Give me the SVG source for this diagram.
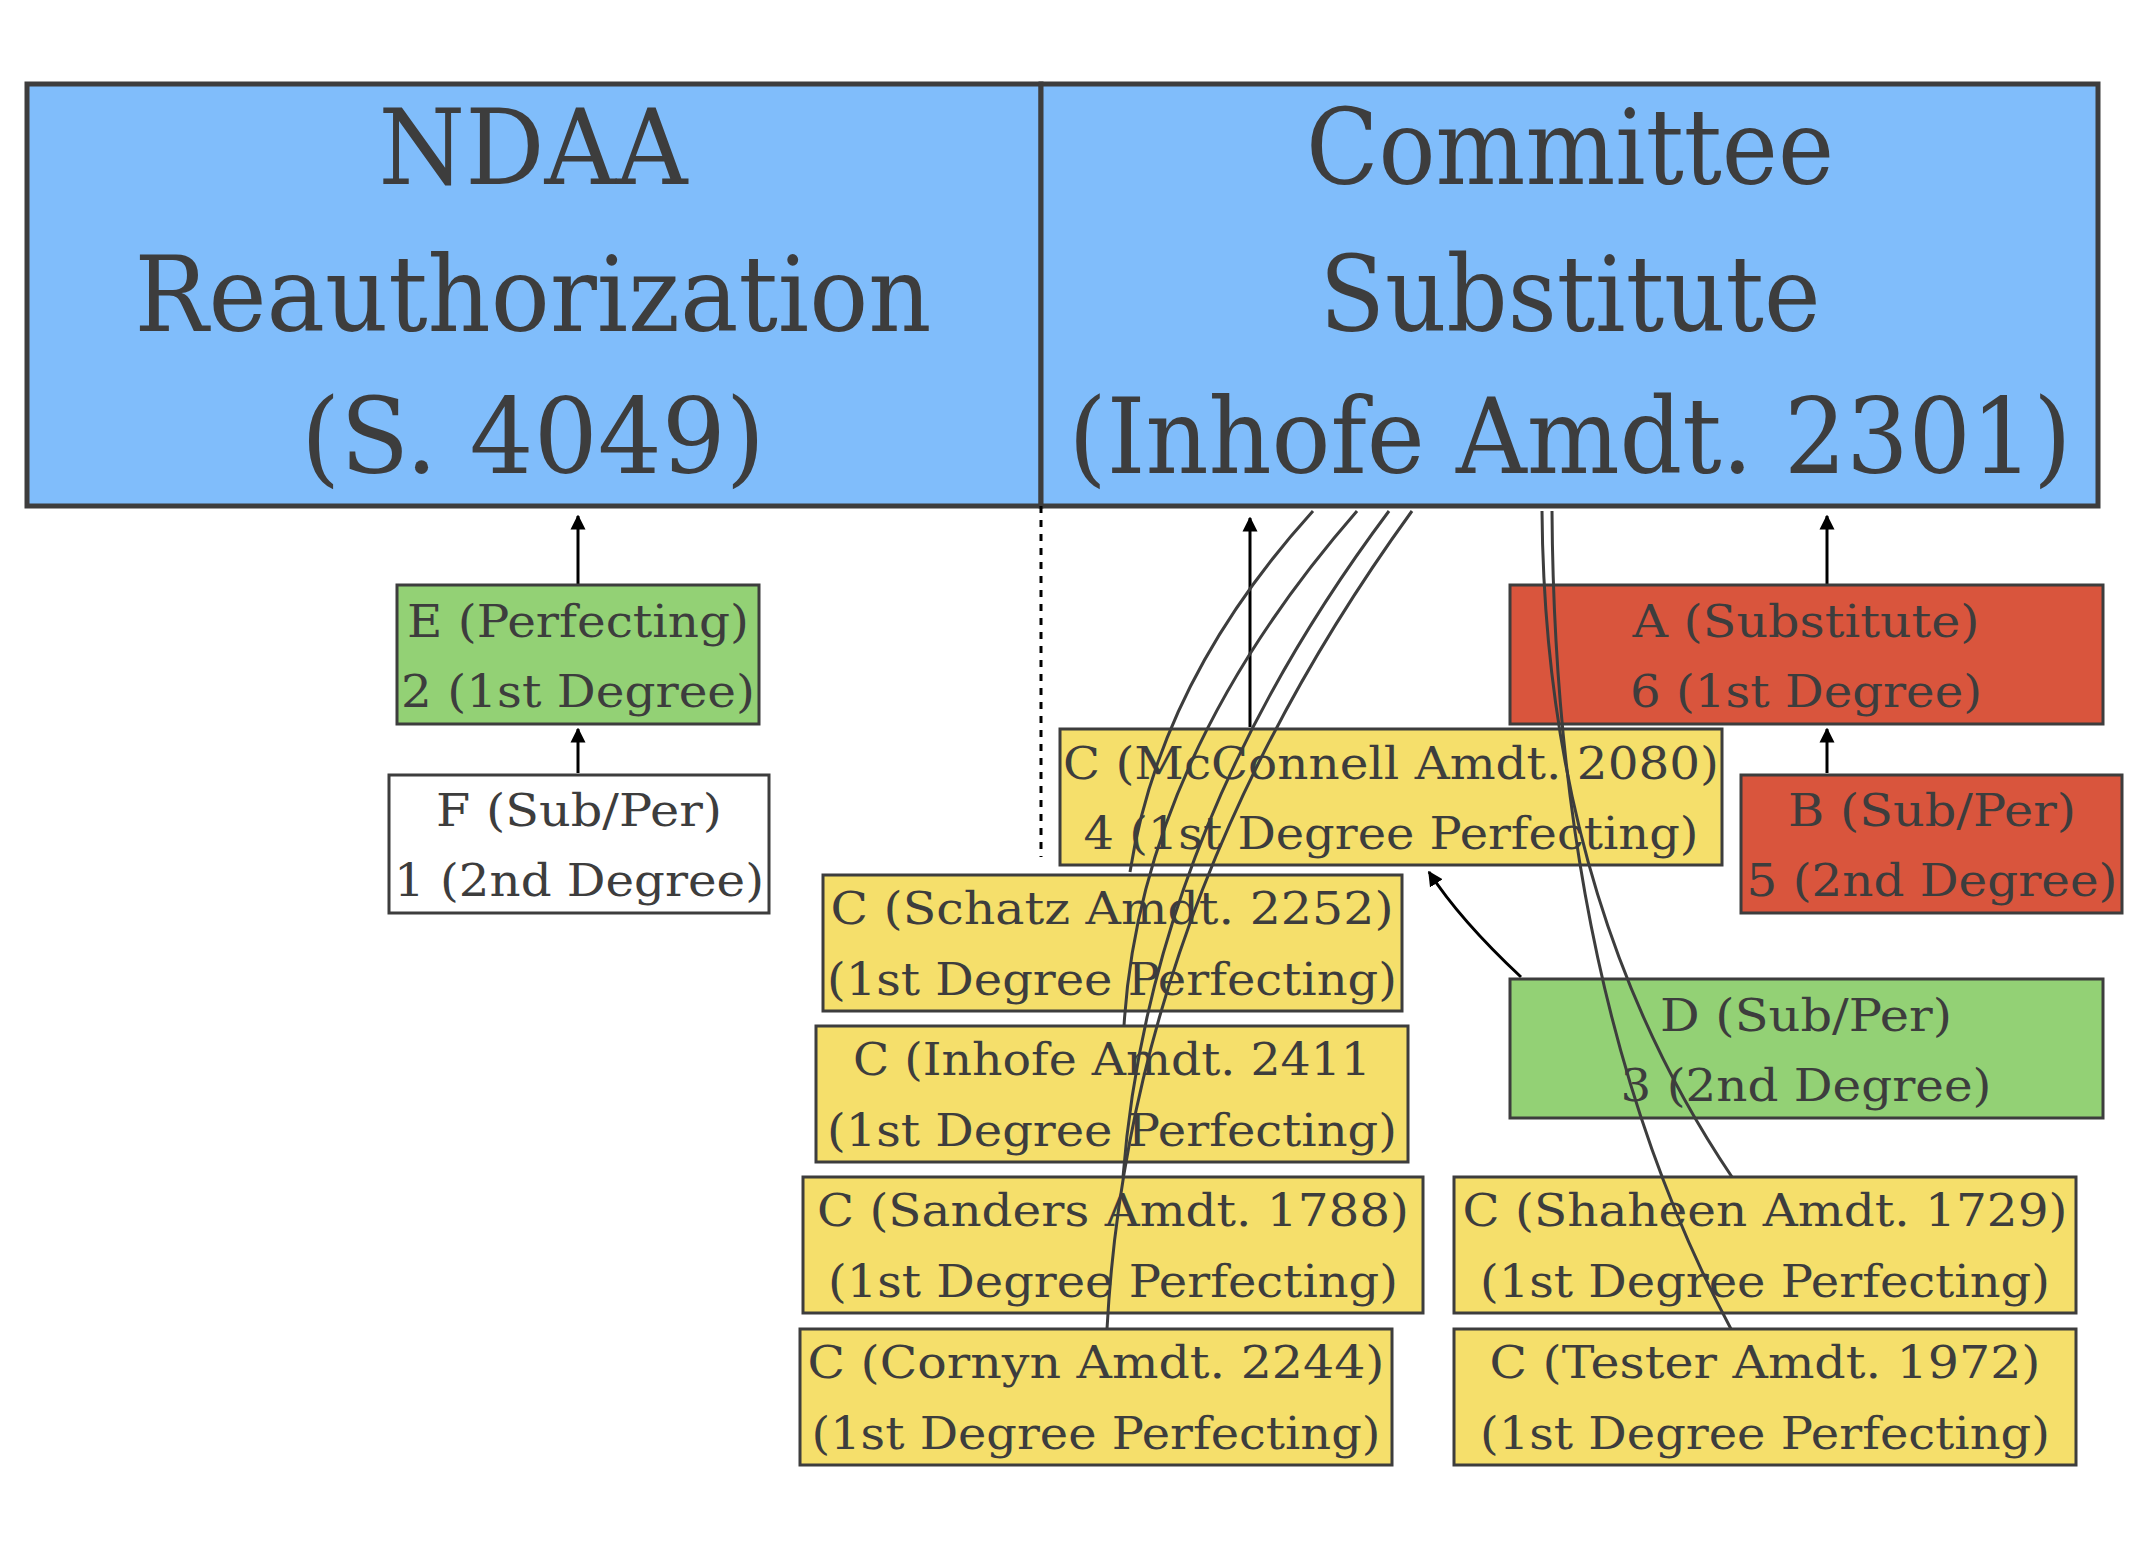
<svg xmlns="http://www.w3.org/2000/svg" width="2133" height="1553" viewBox="0 0 2133 1553">
<style>
text{font-family:"DejaVu Serif","Liberation Serif",serif;fill:#3d3d3d;text-anchor:middle}
.big{font-size:104px}
.sm{font-size:44px}
.bx{stroke:#3d3d3d;stroke-width:3}
.blue{fill:#80bdfb;stroke-width:5}
.green{fill:#93d175}.red{fill:#d9553d}.yel{fill:#f5df6b}.wht{fill:#fff}
.ln{fill:none;stroke:#3d3d3d;stroke-width:3}
.ar{fill:none;stroke:#000;stroke-width:3;marker-end:url(#ah)}
</style>
<defs><marker id="ah" viewBox="0 0 10 10" refX="9" refY="5" markerWidth="5" markerHeight="6" orient="auto"><path d="M0,0L10,5L0,10z" fill="#000"/></marker></defs>
<rect width="2133" height="1553" fill="#fff"/>
<g id="ndaa"><rect class="bx blue" x="27" y="84" width="1014" height="422"/>
<text class="big" x="533" y="184" textLength="309" lengthAdjust="spacingAndGlyphs">NDAA</text>
<text class="big" x="533" y="331" textLength="797" lengthAdjust="spacingAndGlyphs">Reauthorization</text>
<text class="big" x="533" y="473" textLength="464" lengthAdjust="spacingAndGlyphs">(S. 4049)</text></g>
<g id="committee"><rect class="bx blue" x="1041" y="84" width="1057" height="422"/>
<text class="big" x="1570" y="184" textLength="528" lengthAdjust="spacingAndGlyphs">Committee</text>
<text class="big" x="1570" y="331" textLength="501" lengthAdjust="spacingAndGlyphs">Substitute</text>
<text class="big" x="1570" y="473" textLength="1003" lengthAdjust="spacingAndGlyphs">(Inhofe Amdt. 2301)</text></g>
<g id="connectors">
<line x1="1041" y1="506" x2="1041" y2="857" stroke="#000" stroke-width="3" stroke-dasharray="7,7"/>
<line class="ar" x1="578" y1="585" x2="578" y2="516"/>
<line class="ar" x1="578" y1="773" x2="578" y2="729"/>
<line class="ar" x1="1827" y1="585" x2="1827" y2="516"/>
<line class="ar" x1="1827" y1="773" x2="1827" y2="729"/>
<line class="ar" x1="1250" y1="727" x2="1250" y2="518"/>
<path class="ar" d="M1521,977 Q1460,920 1429,872"/>
</g>
<g id="e"><rect class="bx green" x="397" y="585" width="362" height="139"/>
<text class="sm" x="578" y="637" textLength="342" lengthAdjust="spacingAndGlyphs">E (Perfecting)</text>
<text class="sm" x="578" y="707" textLength="354" lengthAdjust="spacingAndGlyphs">2 (1st Degree)</text></g>
<g id="f"><rect class="bx wht" x="389" y="775" width="380" height="138"/>
<text class="sm" x="579" y="826" textLength="286" lengthAdjust="spacingAndGlyphs">F (Sub/Per)</text>
<text class="sm" x="579" y="896" textLength="370" lengthAdjust="spacingAndGlyphs">1 (2nd Degree)</text></g>
<g id="a"><rect class="bx red" x="1510" y="585" width="593" height="139"/>
<text class="sm" x="1806" y="637" textLength="347" lengthAdjust="spacingAndGlyphs">A (Substitute)</text>
<text class="sm" x="1806" y="707" textLength="352" lengthAdjust="spacingAndGlyphs">6 (1st Degree)</text></g>
<g id="b"><rect class="bx red" x="1741" y="775" width="381" height="138"/>
<text class="sm" x="1932" y="826" textLength="288" lengthAdjust="spacingAndGlyphs">B (Sub/Per)</text>
<text class="sm" x="1932" y="896" textLength="371" lengthAdjust="spacingAndGlyphs">5 (2nd Degree)</text></g>
<g id="mcconnell"><rect class="bx yel" x="1060" y="729" width="662" height="136"/>
<text class="sm" x="1391" y="779" textLength="656" lengthAdjust="spacingAndGlyphs">C (McConnell Amdt. 2080)</text>
<text class="sm" x="1391" y="849" textLength="615" lengthAdjust="spacingAndGlyphs">4 (1st Degree Perfecting)</text></g>
<g id="schatz"><rect class="bx yel" x="823" y="875" width="579" height="136"/>
<text class="sm" x="1112" y="924" textLength="563" lengthAdjust="spacingAndGlyphs">C (Schatz Amdt. 2252)</text>
<text class="sm" x="1112" y="995" textLength="570" lengthAdjust="spacingAndGlyphs">(1st Degree Perfecting)</text></g>
<g id="inhofe2411"><rect class="bx yel" x="816" y="1026" width="592" height="136"/>
<text class="sm" x="1112" y="1075" textLength="518" lengthAdjust="spacingAndGlyphs">C (Inhofe Amdt. 2411</text>
<text class="sm" x="1112" y="1146" textLength="570" lengthAdjust="spacingAndGlyphs">(1st Degree Perfecting)</text></g>
<g id="sanders"><rect class="bx yel" x="803" y="1177" width="620" height="136"/>
<text class="sm" x="1113" y="1226" textLength="592" lengthAdjust="spacingAndGlyphs">C (Sanders Amdt. 1788)</text>
<text class="sm" x="1113" y="1297" textLength="570" lengthAdjust="spacingAndGlyphs">(1st Degree Perfecting)</text></g>
<g id="cornyn"><rect class="bx yel" x="800" y="1329" width="592" height="136"/>
<text class="sm" x="1096" y="1378" textLength="577" lengthAdjust="spacingAndGlyphs">C (Cornyn Amdt. 2244)</text>
<text class="sm" x="1096" y="1449" textLength="569" lengthAdjust="spacingAndGlyphs">(1st Degree Perfecting)</text></g>
<g id="d"><rect class="bx green" x="1510" y="979" width="593" height="139"/>
<text class="sm" x="1806" y="1031" textLength="292" lengthAdjust="spacingAndGlyphs">D (Sub/Per)</text>
<text class="sm" x="1806" y="1101" textLength="371" lengthAdjust="spacingAndGlyphs">3 (2nd Degree)</text></g>
<g id="shaheen"><rect class="bx yel" x="1454" y="1177" width="622" height="136"/>
<text class="sm" x="1765" y="1226" textLength="605" lengthAdjust="spacingAndGlyphs">C (Shaheen Amdt. 1729)</text>
<text class="sm" x="1765" y="1297" textLength="570" lengthAdjust="spacingAndGlyphs">(1st Degree Perfecting)</text></g>
<g id="tester"><rect class="bx yel" x="1454" y="1329" width="622" height="136"/>
<text class="sm" x="1765" y="1378" textLength="551" lengthAdjust="spacingAndGlyphs">C (Tester Amdt. 1972)</text>
<text class="sm" x="1765" y="1449" textLength="570" lengthAdjust="spacingAndGlyphs">(1st Degree Perfecting)</text></g>
<g id="curves">
<path class="ln" d="M1313,511 Q1160,680 1130,872"/>
<path class="ln" d="M1357,511 Q1140,760 1124,1026"/>
<path class="ln" d="M1389,511 Q1150,830 1123,1177"/>
<path class="ln" d="M1412,511 Q1130,900 1107,1329"/>
<path class="ln" d="M1542,511 Q1545,900 1732,1177"/>
<path class="ln" d="M1552,511 Q1555,1000 1731,1329"/>
</g>
</svg>
